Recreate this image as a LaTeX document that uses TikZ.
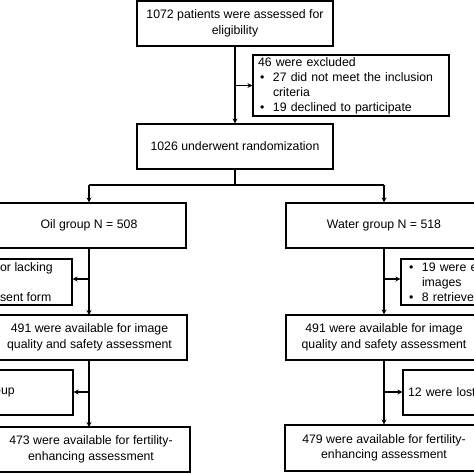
\documentclass[tikz,border=0pt]{standalone}
\usepackage{fontspec}
\setmainfont{Liberation Sans}
\usetikzlibrary{arrows.meta}
\tikzset{
  box/.style={draw, line width=1.1pt, rectangle, inner sep=0pt, align=center, font=\fontsize{12.3}{15.5}\selectfont},
  lbox/.style={draw, line width=1.1pt, rectangle, inner ysep=0pt, inner xsep=5pt, align=left, font=\fontsize{12.3}{15}\selectfont},
  frag/.style={inner sep=0pt, font=\fontsize{12.3}{15}\selectfont},
  conn/.style={line width=1.1pt},
  arr/.style={line width=1.1pt, -{Stealth[length=5pt,width=5pt]}},
}
\newcommand{\bul}{\makebox[15pt][l]{\hspace{2pt}•}}
\begin{document}
\begin{tikzpicture}[x=1pt,y=-1pt]
\useasboundingbox (0,0) rectangle (474,474);
\clip (0,0) rectangle (474,474);
\fill[white] (0,0) rectangle (474,474);

% top
\node[box, minimum width=196pt, minimum height=45pt] (assess) at (235,23.5) {1072 patients were assessed for\\eligibility};
\node[lbox, minimum width=196pt, minimum height=61pt, text width=186pt] (excl) at (351,85.5)
  {46 were excluded\\\bul 27 did not meet the inclusion\\\hspace*{15pt}criteria\\\bul 19 declined to participate};
\node[box, minimum width=196pt, minimum height=45pt] (rand) at (235,146.5) {1026 underwent randomization};

% groups
\node[box, minimum width=194pt, minimum height=45pt] (oil) at (89,225.5) {Oil group N = 508};
\node[box, minimum width=196pt, minimum height=45pt] (water) at (384,225.5) {Water group N = 518};

% first exclusion boxes
\node[box, minimum width=172pt, minimum height=46pt] (oilex) at (-14,282) {};
\node[frag, anchor=east] (oilexa) at (53,268) {or lacking};
\node[frag, anchor=east] (oilexb) at (51.5,297) {sent form};
\node[lbox, minimum width=158pt, minimum height=46pt, text width=148pt, inner xsep=6pt] (waterex) at (481,282)
  {\bul 19 were e\\\hspace*{15pt}images\\\bul 8 retrieve};

% 491 boxes
\node[box, minimum width=195pt, minimum height=45pt] (oilq) at (89.5,337.5) {491 were available for image\\quality and safety assessment};
\node[box, minimum width=196pt, minimum height=45pt] (waterq) at (384,337.5) {491 were available for image\\quality and safety assessment};

% lost boxes
\node[box, minimum width=173pt, minimum height=45pt] (oillost) at (-13.5,392.5) {};
\node[frag, anchor=east] (oillosta) at (15,392) {-up};
\node[lbox, minimum width=157pt, minimum height=45pt, text width=147pt] (waterlost) at (481.5,392.5) {12 were lost};

% bottom
\node[box, minimum width=198pt, minimum height=45pt] (oilf) at (91,449.5) {473 were available for fertility-\\enhancing assessment};
\node[box, minimum width=198pt, minimum height=46pt] (waterf) at (384,448) {479 were available for fertility-\\enhancing assessment};

% connectors
\draw[arr] (assess.south) -- (rand.north);
\coordinate (b1) at (235,85.5);
\draw[arr] (b1) -- (excl.west);

\coordinate (split) at (235,185);
\coordinate (sl) at (89,185);
\coordinate (sr) at (384,185);
\draw[conn] (rand.south) -- (split);
\draw[conn] (sl) -- (sr);
\draw[arr] (sl) -- (oil.north);
\draw[arr] (sr) -- (water.north);

\draw[arr] (oil.south) -- (89,315) coordinate (oq);
\coordinate (b2) at (89,279);
\draw[arr] (b2) -- (oilex.east |- b2);
\draw[arr] (water.south) -- (waterq.north);
\coordinate (b3) at (384,279);
\draw[arr] (b3) -- (waterex.west |- b3);

\draw[arr] (89,360) -- (89,427);
\coordinate (b4) at (89,392);
\draw[arr] (b4) -- (oillost.east |- b4);
\draw[arr] (waterq.south) -- (waterf.north);
\coordinate (b5) at (384,392);
\draw[arr] (b5) -- (waterlost.west |- b5);
\end{tikzpicture}
\end{document}
